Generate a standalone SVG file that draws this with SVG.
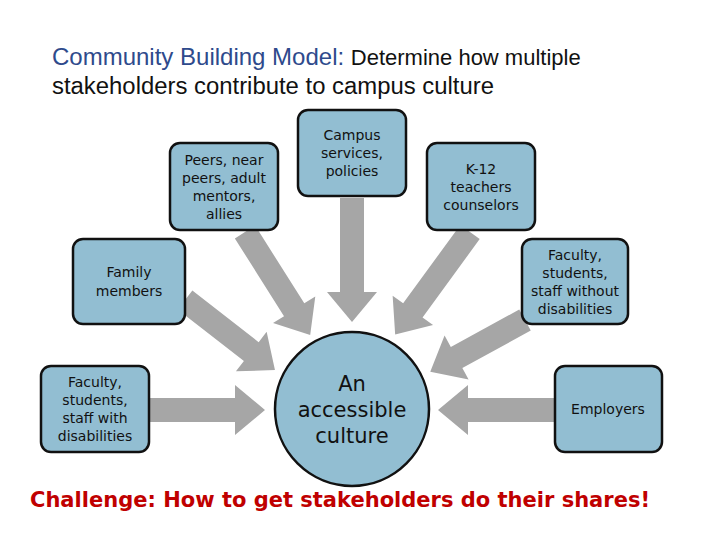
<svg xmlns="http://www.w3.org/2000/svg" width="720" height="540" viewBox="0 0 720 540">
<style>
.box{fill:#92BED2;stroke:#111;stroke-width:2.5}
.t{font-family:"DejaVu Sans",Verdana,sans-serif;font-size:14px;fill:#111;text-anchor:middle}
.arr{fill:#A6A6A6}
</style>
<rect width="720" height="540" fill="#fff"/>
<text x="52" y="65" font-family="Liberation Sans,Arial,sans-serif" font-size="24" fill="#2E4A8C">Community Building Model: <tspan font-size="22" fill="#111">Determine how multiple</tspan></text>
<text x="52" y="94" font-family="Liberation Sans,Arial,sans-serif" font-size="23" fill="#111" textLength="442" lengthAdjust="spacingAndGlyphs">stakeholders contribute to campus culture</text>
<g id="connectors">
<path class="arr" transform="translate(352,198) rotate(90)" d="M0,-12 H94 V-25 L124,0 L94,25 V12 H0 Z"/>
<path class="arr" transform="translate(245,232) rotate(57.7)" d="M0,-12 H92 V-25 L122,0 L92,25 V12 H0 Z"/>
<path class="arr" transform="translate(470,232) rotate(126.1)" d="M0,-12 H97 V-25 L127,0 L97,25 V12 H0 Z"/>
<path class="arr" transform="translate(185,300) rotate(37.9)" d="M0,-12 H84 V-25 L114,0 L84,25 V12 H0 Z"/>
<path class="arr" transform="translate(525,320) rotate(151.3)" d="M0,-12 H78 V-25 L108,0 L78,25 V12 H0 Z"/>
<path class="arr" transform="translate(150,410)" d="M0,-12 H85 V-25 L115,0 L85,25 V12 H0 Z"/>
<path class="arr" transform="translate(555,410) rotate(180)" d="M0,-12 H87 V-25 L117,0 L87,25 V12 H0 Z"/>
</g>
<g id="peers"><rect class="box" x="170" y="143" width="108" height="87" rx="10"/><text class="t" y="165"><tspan x="224">Peers, near</tspan><tspan x="224" dy="18">peers, adult</tspan><tspan x="224" dy="18">mentors,</tspan><tspan x="224" dy="18">allies</tspan></text></g>
<g id="campus"><rect class="box" x="298" y="110" width="108" height="86" rx="10"/><text class="t" y="140"><tspan x="352">Campus</tspan><tspan x="352" dy="18">services,</tspan><tspan x="352" dy="18">policies</tspan></text></g>
<g id="k12"><rect class="box" x="427" y="143" width="108" height="87" rx="10"/><text class="t" y="174"><tspan x="481">K-12</tspan><tspan x="481" dy="18">teachers</tspan><tspan x="481" dy="18">counselors</tspan></text></g>
<g id="family"><rect class="box" x="73" y="239" width="112" height="85" rx="10"/><text class="t" y="277"><tspan x="129">Family</tspan><tspan x="129" dy="19">members</tspan></text></g>
<g id="facultywo"><rect class="box" x="522" y="239" width="106" height="85" rx="10"/><text class="t" y="260"><tspan x="575">Faculty,</tspan><tspan x="575" dy="18">students,</tspan><tspan x="575" dy="18">staff without</tspan><tspan x="575" dy="18">disabilities</tspan></text></g>
<g id="facultyw"><rect class="box" x="41" y="366" width="108" height="86" rx="10"/><text class="t" y="387"><tspan x="95">Faculty,</tspan><tspan x="95" dy="18">students,</tspan><tspan x="95" dy="18">staff with</tspan><tspan x="95" dy="18">disabilities</tspan></text></g>
<g id="employers"><rect class="box" x="555" y="366" width="107" height="86" rx="10"/><text class="t" x="608" y="414">Employers</text></g>
<g id="center"><circle class="box" cx="352" cy="409" r="77"/><text class="t" style="font-size:21px" y="391"><tspan x="352">An</tspan><tspan x="352" dy="26">accessible</tspan><tspan x="352" dy="26">culture</tspan></text></g>
<text x="30" y="507" font-family="DejaVu Sans,Verdana,sans-serif" font-weight="bold" font-size="21" fill="#C00000" textLength="620" lengthAdjust="spacingAndGlyphs">Challenge: How to get stakeholders do their shares!</text>
</svg>
